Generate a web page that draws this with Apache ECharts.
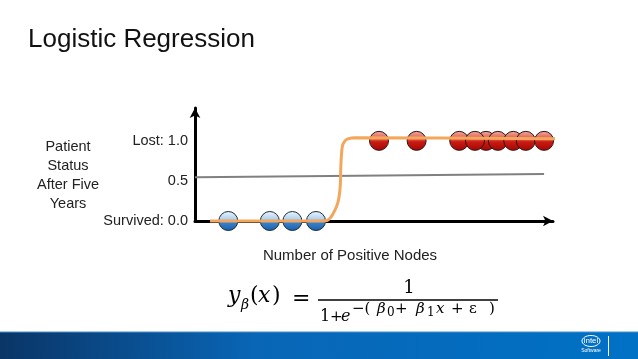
<!DOCTYPE html>
<html>
<head>
<meta charset="utf-8">
<script src="https://cdn.jsdelivr.net/npm/echarts@6/dist/echarts.min.js"></script>
<style>
html,body{margin:0;padding:0;background:#fff;}
#c{width:638px;height:359px;}
</style>
</head>
<body>
<div id="c"></div>
<script>
// ---- data ----
var survivedX = [9.3, 20.9, 27.2, 33.8];
var survivedY = [0, 0, 0, 0];
var lostX = [81.3, 51.4, 61.9, 73.8, 78.2, 84.6, 88.9, 92.4, 97.5];
var lostY = [1, 1, 1, 1, 1, 1, 1, 1, 1];
var curveX = [4.2, 34.9, 36.9, 38.0, 38.8, 39.7, 40.2, 40.6, 40.7, 40.9, 41.2, 41.9, 42.7, 44.7, 101.1];
var curveY = [0, 0, 0.006, 0.05, 0.11, 0.2, 0.29, 0.45, 0.64, 0.82, 0.94, 1.0, 1.025, 1.04, 1.025];
var thresholdX = [0, 97.5];
var thresholdY = [0.546, 0.588];
var yTickValues = [0, 0.5, 1.0];
var yTickLabels = ['Survived: 0.0', '0.5', 'Lost: 1.0'];

function zip(a, b) { return a.map(function (v, i) { return [v, b[i]]; }); }

var chart = echarts.init(document.getElementById('c'), null, {renderer: 'canvas'});
var FONT = '"Liberation Sans", Arial, sans-serif';
var MATH = '"DejaVu Serif", serif';

function t(x, y, text, size, opts) {
  opts = opts || {};
  return {
    type: 'text', x: x, y: y, z: 10,
    style: {
      text: text,
      font: (opts.italic ? 'italic ' : '') + size + 'px ' + (opts.family || MATH),
      fill: opts.fill || '#000',
      align: opts.align || 'left',
      verticalAlign: 'middle',
      lineHeight: opts.lineHeight
    }
  };
}

var option = {
  animation: false,
  grid: {left: 195, right: 85, top: 108, bottom: 138, containLabel: false},
  xAxis: {
    type: 'value', min: 0, max: 100,
    axisLine: {show: true, symbol: ['none', 'arrow'], symbolSize: [8, 10], lineStyle: {color: '#000', width: 3}},
    axisTick: {show: false}, axisLabel: {show: false}, splitLine: {show: false}
  },
  yAxis: {
    type: 'value', min: 0, max: 1.41, interval: 0.5,
    axisLine: {show: true, symbol: ['none', 'arrow'], symbolSize: [8, 10], lineStyle: {color: '#000', width: 3}},
    axisTick: {show: false}, splitLine: {show: false},
    axisLabel: {
      margin: 7, color: '#222', fontSize: 14.5, fontFamily: FONT,
      showMaxLabel: false,
      formatter: function (v) {
        for (var i = 0; i < yTickValues.length; i++) {
          if (Math.abs(v - yTickValues[i]) < 1e-6) return yTickLabels[i];
        }
        return '';
      }
    }
  },
  series: [
    {
      type: 'line', data: zip(thresholdX, thresholdY), symbol: 'none', z: 1,
      lineStyle: {color: '#808080', width: 2}
    },
    {
      type: 'scatter', data: zip(survivedX, survivedY), symbolSize: 19, z: 3,
      itemStyle: {
        color: {type: 'linear', x: 0, y: 0, x2: 0, y2: 1, colorStops: [
          {offset: 0, color: '#eef6fd'}, {offset: 0.45, color: '#a9cdee'},
          {offset: 0.55, color: '#3a85cf'}, {offset: 1, color: '#1b5ea8'}]},
        borderColor: '#1e2a38', borderWidth: 1, opacity: 1
      }
    },
    {
      type: 'scatter', data: zip(lostX, lostY), symbolSize: 19, z: 3,
      itemStyle: {
        color: {type: 'linear', x: 0, y: 0, x2: 0, y2: 1, colorStops: [
          {offset: 0, color: '#f2b0a4'}, {offset: 0.45, color: '#de4a3c'},
          {offset: 0.55, color: '#c81c12'}, {offset: 1, color: '#a60404'}]},
        borderColor: '#2a1414', borderWidth: 1, opacity: 1
      }
    },
    {
      type: 'line', data: zip(curveX, curveY), symbol: 'none', smooth: 0.3, clip: false, z: 5,
      lineStyle: {color: '#f2a75c', width: 3}
    }
  ],
  graphic: [
    t(28, 40, 'Logistic Regression', 26, {family: FONT, fill: '#111'}),
    t(68, 175, 'Patient\nStatus\nAfter Five\nYears', 14.5, {family: FONT, fill: '#222', align: 'center', lineHeight: 19}),
    t(350, 256, 'Number of Positive Nodes', 15, {family: FONT, fill: '#222', align: 'center'}),
    // formula
    t(228, 296, 'y', 22, {italic: true}),
    t(241, 305, 'β', 14, {italic: true}),
    t(250, 296, '(', 22),
    t(258, 296, 'x', 22, {italic: true}),
    t(272, 296, ')', 22),
    t(292, 299, '=', 22),
    {type: 'line', z: 10, shape: {x1: 318, y1: 300, x2: 498, y2: 300}, style: {stroke: '#000', lineWidth: 1.5}},
    t(409, 288, '1', 18, {align: 'center'}),
    t(320, 317, '1', 16),
    t(330, 317, '+', 15),
    t(341, 317, 'e', 16, {italic: true}),
    t(352, 309, '−(', 15),
    t(377, 309, 'β', 15, {italic: true}),
    t(387, 313, '0', 12),
    t(395, 309, '+', 15),
    t(416, 309, 'β', 15, {italic: true}),
    t(427, 313, '1', 12),
    t(436, 309, 'x', 15, {italic: true}),
    t(451, 309, '+', 15),
    t(469, 309, 'ε', 15),
    t(489, 309, ')', 15),
    // bottom bar
    {type: 'rect', z: 0, shape: {x: 0, y: 332, width: 638, height: 27},
     style: {fill: {type: 'linear', x: 0, y: 0, x2: 1, y2: 0, colorStops: [
       {offset: 0, color: '#0a3566'}, {offset: 0.4, color: '#0966b6'}, {offset: 1, color: '#0071c5'}]}}},
    {type: 'line', z: 1, shape: {x1: 0, y1: 332, x2: 638, y2: 332}, style: {stroke: '#4a8fd0', lineWidth: 1}},
    {type: 'ellipse', z: 2, shape: {cx: 591, cy: 341, rx: 9, ry: 5.5}, style: {stroke: '#fff', fill: 'none', lineWidth: 1}},
    t(591, 341, 'intel', 8, {family: FONT, fill: '#fff', align: 'center'}),
    t(591, 351, 'Software', 5, {family: FONT, fill: '#fff', align: 'center'}),
    {type: 'line', z: 2, shape: {x1: 608.5, y1: 336, x2: 608.5, y2: 356}, style: {stroke: '#fff', lineWidth: 1}}
  ]
};
chart.setOption(option);
</script>
</body>
</html>
